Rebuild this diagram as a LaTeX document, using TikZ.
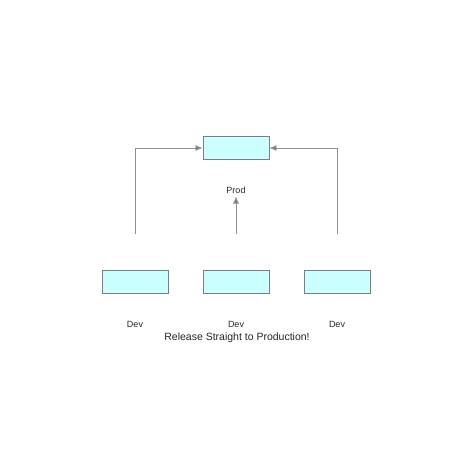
\documentclass[tikz,border=0pt]{standalone}
\usepackage{fontspec}
\setmainfont{Liberation Sans}
\usetikzlibrary{arrows.meta}
\definecolor{boxfill}{HTML}{CCFFFF}
\definecolor{boxline}{HTML}{7A7F85}
\definecolor{wire}{HTML}{8A9096}
\tikzset{
    envbox/.style={draw=boxline,fill=boxfill,line width=0.9pt,minimum width=66pt,minimum height=23pt,inner sep=0pt},
    lbl/.style={inner sep=0pt,font=\fontsize{9}{11}\selectfont,text=black!85},
    flow/.style={draw=wire,line width=0.8pt,-{Latex[length=7pt,width=6pt,fill=boxline]}}
}
\begin{document}
\begin{tikzpicture}[x=1pt,y=-1pt]
    \useasboundingbox (0,0) rectangle (474,448);
    \node[envbox] (prod) at (236,148) {};
    \node[lbl] (prodlbl) at (236,190) {Prod};
    \foreach \n/\x in {a/135,b/236,c/337}{
        \node[envbox] (dev\n) at (\x,281.5) {};
        \node[lbl] (devlbl\n) at (\x,324) {Dev};
        \coordinate (src\n) at (\x,234);
    }
    \node[lbl,font=\fontsize{10.5}{12}\selectfont] (title) at (237,338) {Release Straight to Production!};
    \draw[flow] (srca) |- (prod.west);
    \draw[flow] (srcc) |- (prod.east);
    \draw[flow] (srcb) -- ([yshift=-3pt]prodlbl.south);
\end{tikzpicture}
\end{document}
